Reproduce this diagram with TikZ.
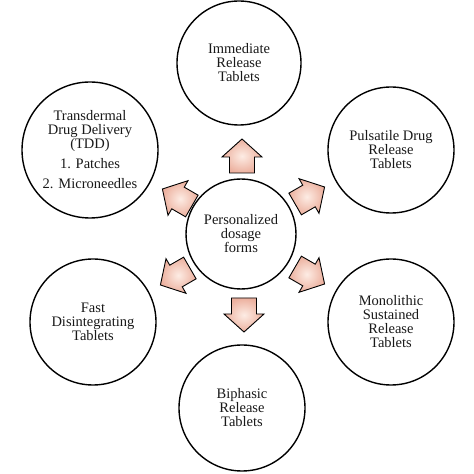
\documentclass[tikz,border=0pt]{standalone}
\usepackage{fontspec}
\setmainfont{Liberation Serif}
\usetikzlibrary{shadings}
\definecolor{arrowin}{RGB}{253,236,228}
\definecolor{arrowout}{RGB}{236,176,158}
\definecolor{txt}{RGB}{25,25,25}
\tikzset{
  bubble/.style={circle, draw=black, line width=1.4pt, fill=white, text=txt,
    align=center, inner sep=0pt, font=\fontsize{14.5}{14}\selectfont},
  arrowshape/.style={draw=black, line width=0.9pt, inner color=arrowin, outer color=arrowout},
  outarrow/.pic={
    \path[arrowshape] (-16,-12.5) -- (0,-12.5) -- (0,-20) -- (18,0) -- (0,20) -- (0,12.5) -- (-16,12.5) -- cycle;
  }
}
\begin{document}
\begin{tikzpicture}[x=1pt,y=1pt]
\useasboundingbox (0,0) rectangle (474,474);
\node[bubble, minimum size=110pt] (center) at (241,240) {Personalized\\dosage\\forms};
\node[bubble, minimum size=124pt] (imm) at (239,411) {Immediate\\Release\\Tablets};
\node[bubble, minimum size=126pt] (puls) at (391,324) {Pulsatile Drug\\Release\\Tablets};
\node[bubble, minimum size=126pt] (mono) at (391,152) {Monolithic\\Sustained\\Release\\Tablets};
\node[bubble, minimum size=126pt] (bi) at (242,66) {Biphasic\\Release\\Tablets};
\node[bubble, minimum size=126pt] (fast) at (93,152) {Fast\\Disintegrating\\Tablets};
\node[bubble, minimum size=136pt] (tdd) at (90,324) {Transdermal\\Drug Delivery\\(TDD)\\[6pt]1. Patches\\[6pt]2. Microneedles};
\pic[rotate=90] (aup) at (242,317) {outarrow};
\pic[rotate=270] (adown) at (244,160) {outarrow};
\pic[rotate=150] (aul) at (178,276) {outarrow};
\pic[rotate=30] (aur) at (309,278) {outarrow};
\pic[rotate=210] (all) at (176,198) {outarrow};
\pic[rotate=330] (alr) at (309,199) {outarrow};
\end{tikzpicture}
\end{document}
